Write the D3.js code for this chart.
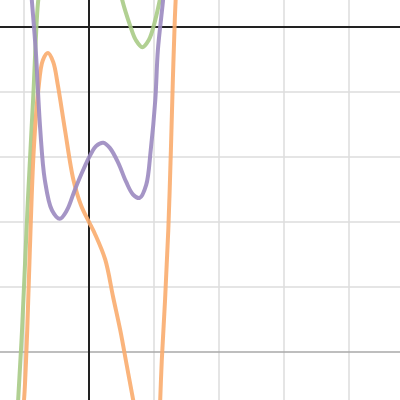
<!DOCTYPE html>
<html><head><meta charset="utf-8">
<script src="https://cdn.jsdelivr.net/npm/d3@7"></script>
<style>body{margin:0;background:#fff}</style>
</head><body>
<div id="chart"></div>
<script>
// curve points (graph units)
var green1 = [[-1.10,-5.9],[-1.09,-5.74],[-1.03,-4.66],[-0.94,-2.66],[-0.86,-1.12],[-0.78,0.42],[-0.75,0.57]];
var green2 = [[0.48,0.57],[0.51,0.42],[0.63,0.03],[0.72,-0.20],[0.82,-0.31],[0.92,-0.20],[1.02,0.11],[1.09,0.42],[1.12,0.57]];
var purple = [[-0.89,0.57],[-0.88,0.42],[-0.82,-0.35],[-0.75,-1.58],[-0.68,-2.35],[-0.57,-2.82],[-0.45,-2.95],[-0.34,-2.82],[-0.22,-2.51],[-0.09,-2.20],[0.02,-1.97],[0.11,-1.83],[0.22,-1.78],[0.32,-1.86],[0.45,-2.09],[0.57,-2.38],[0.68,-2.58],[0.78,-2.63],[0.88,-2.43],[0.95,-1.89],[1.02,-1.12],[1.06,-0.35],[1.14,0.42],[1.15,0.57]];
var orange1 = [[-1.02,-5.89],[-1.00,-5.74],[-0.95,-4.66],[-0.91,-3.43],[-0.85,-1.89],[-0.78,-0.97],[-0.71,-0.51],[-0.63,-0.40],[-0.55,-0.54],[-0.48,-0.89],[-0.37,-1.58],[-0.24,-2.35],[-0.12,-2.75],[0,-3.00],[0.09,-3.18],[0.25,-3.58],[0.37,-4.15],[0.48,-4.66],[0.58,-5.20],[0.68,-5.74],[0.71,-5.89]];
var orange2 = [[1.09,-5.89],[1.12,-5.12],[1.17,-4.20],[1.22,-3.12],[1.26,-1.89],[1.29,-0.82],[1.32,0.11],[1.34,0.57]];
var gridX = [-1,1,2,3,4];
var gridY = [-1,-2,-3,-4];

var W = 400, H = 400;
var x = d3.scaleLinear().domain([-89/65, (400-89)/65]).range([0, W]);
var y = d3.scaleLinear().domain([27/65, (27-400)/65]).range([0, H]);

var svg = d3.select('#chart').append('svg').attr('width', W).attr('height', H);
svg.append('defs').append('clipPath').attr('id','c').append('rect').attr('width',W).attr('height',H);

svg.selectAll('.gx').data(gridX).enter().append('line')
  .attr('x1', d => x(d)).attr('x2', d => x(d)).attr('y1', 0).attr('y2', H)
  .attr('stroke', '#dcdcdc').attr('stroke-width', 1.5);
svg.selectAll('.gy').data(gridY).enter().append('line')
  .attr('y1', d => y(d)).attr('y2', d => y(d)).attr('x1', 0).attr('x2', W)
  .attr('stroke', '#dcdcdc').attr('stroke-width', 1.5);
svg.append('line').attr('y1', y(-5)).attr('y2', y(-5)).attr('x1', 0).attr('x2', W)
  .attr('stroke', '#a8a8a8').attr('stroke-width', 1.5);
// axes
svg.append('line').attr('x1', x(0)).attr('x2', x(0)).attr('y1', 0).attr('y2', H).attr('stroke', '#222').attr('stroke-width', 2);
svg.append('line').attr('y1', y(0)).attr('y2', y(0)).attr('x1', 0).attr('x2', W).attr('stroke', '#222').attr('stroke-width', 2);

var line = d3.line().x(d => x(d[0])).y(d => y(d[1])).curve(d3.curveCatmullRom.alpha(0.5));
var series = [
  {d: green1, c: '#a8cb86'}, {d: green2, c: '#a8cb86'},
  {d: orange1, c: '#f9ac6e'}, {d: orange2, c: '#f9ac6e'},
  {d: purple, c: '#9b89c0'}
];
svg.append('g').attr('clip-path','url(#c)').selectAll('path').data(series).enter().append('path')
  .attr('d', s => line(s.d)).attr('fill', 'none').attr('stroke', s => s.c)
  .attr('stroke-width', 4).attr('stroke-opacity', 0.9);
</script>
</body></html>
